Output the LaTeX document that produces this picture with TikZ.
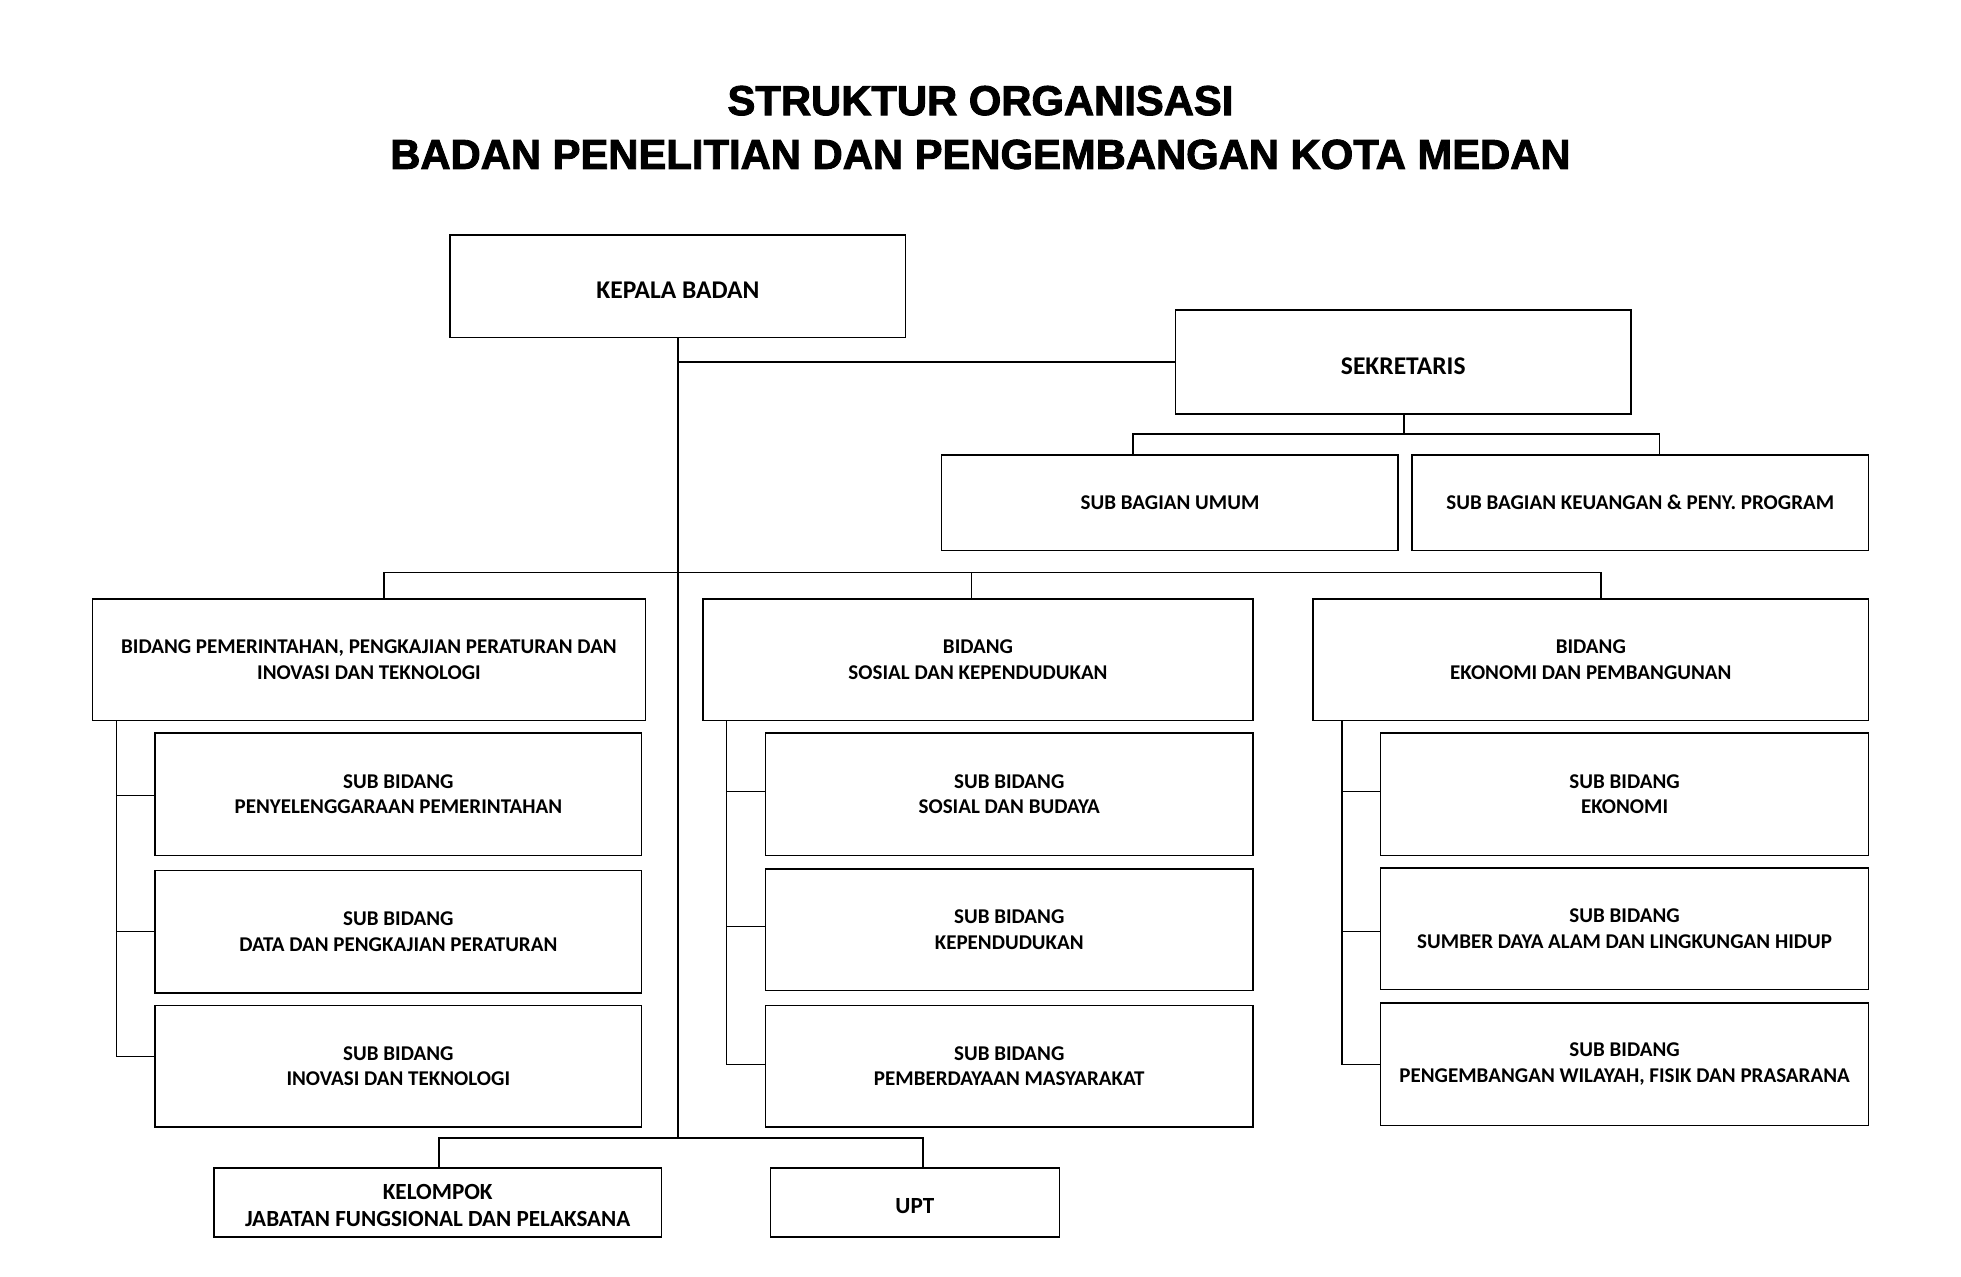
\documentclass[tikz,border=0pt]{standalone}
\usepackage{fontspec}
\setmainfont{Carlito}
\newfontfamily\titlefont[FakeBold=2.2]{Liberation Sans Bold}
\begin{document}
\begin{tikzpicture}[x=1pt,y=-1pt,
  box/.style={draw, line width=1.2pt, inner sep=0pt, align=center,
    font=\bfseries\fontsize{16.8}{20.5}\selectfont},
  bigbox/.style={box, font=\bfseries\fontsize{20.4}{22}\selectfont, text height=19.2pt, text depth=0pt},
  botbox/.style={box, font=\bfseries\fontsize{18.5}{22}\selectfont},
  lbl/.style={font=\bfseries\fontsize{18.5}{22}\selectfont, align=center, inner sep=0pt, yshift=-2.5pt},
  conn/.style={line width=1.1pt},
  ttl/.style={font=\titlefont\fontsize{33.4}{43}\selectfont, inner sep=0pt, anchor=base}]
\useasboundingbox (0,0) rectangle (1568,1020.3);
% title
\node[ttl] (t1) at (784,92) {STRUKTUR ORGANISASI};
\node[ttl] (t2) at (784,135) {BADAN PENELITIAN DAN PENGEMBANGAN KOTA MEDAN};
% top
\node[bigbox, minimum width=364, minimum height=82] (kepala) at (542,229) {KEPALA BADAN};
\node[bigbox, minimum width=364, minimum height=83] (sek) at (1122,289.5) {SEKRETARIS};
\node[box, minimum width=365, minimum height=76] (umum) at (935.5,402) {SUB BAGIAN UMUM};
\node[box, minimum width=365, minimum height=76] (keu) at (1311.5,402) {SUB BAGIAN KEUANGAN \& PENY. PROGRAM};
% bidang
\node[box, minimum width=442, minimum height=97] (b1) at (295,527.5) {BIDANG PEMERINTAHAN, PENGKAJIAN PERATURAN DAN\\INOVASI DAN TEKNOLOGI};
\node[box, minimum width=440, minimum height=97] (b2) at (782,527.5) {BIDANG\\SOSIAL DAN KEPENDUDUKAN};
\node[box, minimum width=444, minimum height=97] (b3) at (1272,527.5) {BIDANG\\EKONOMI DAN PEMBANGUNAN};
% sub bidang left
\node[box, minimum width=389, minimum height=98] (s11) at (318.5,635) {SUB BIDANG\\PENYELENGGARAAN PEMERINTAHAN};
\node[box, minimum width=389, minimum height=98] (s12) at (318.5,745) {SUB BIDANG\\DATA DAN PENGKAJIAN PERATURAN};
\node[box, minimum width=389, minimum height=97] (s13) at (318.5,852.5) {SUB BIDANG\\INOVASI DAN TEKNOLOGI};
% sub bidang middle
\node[box, minimum width=390, minimum height=98] (s21) at (807,635) {SUB BIDANG\\SOSIAL DAN BUDAYA};
\node[box, minimum width=390, minimum height=97] (s22) at (807,743.5) {SUB BIDANG\\KEPENDUDUKAN};
\node[box, minimum width=390, minimum height=97] (s23) at (807,852.5) {SUB BIDANG\\PEMBERDAYAAN MASYARAKAT};
% sub bidang right
\node[box, minimum width=390, minimum height=98] (s31) at (1299,635) {SUB BIDANG\\EKONOMI};
\node[box, minimum width=390, minimum height=97] (s32) at (1299,742.5) {SUB BIDANG\\SUMBER DAYA ALAM DAN LINGKUNGAN HIDUP};
\node[box, minimum width=390, minimum height=98] (s33) at (1299,851) {SUB BIDANG\\PENGEMBANGAN WILAYAH, FISIK DAN PRASARANA};
% bottom
\node[box, minimum width=358, minimum height=55,
  label={[lbl]center:{KELOMPOK\\JABATAN FUNGSIONAL DAN PELAKSANA}}] (kel) at (350,961.5) {};
\node[botbox, minimum width=231, minimum height=55, text height=18pt, text depth=0pt] (upt) at (731.5,961.5) {UPT};
% coordinates
\coordinate (trunkbot) at (542,910);
\coordinate (sekbus) at (1122.5,347);
\coordinate (umumt) at (906,364);
\coordinate (keut) at (1327,364);
\coordinate (bus) at (542,458);
\coordinate (b1t) at (307,479);
\coordinate (b2t) at (777,479);
\coordinate (b3t) at (1280,479);
\coordinate (c1) at (93,576);
\coordinate (c2) at (581,576);
\coordinate (c3) at (1073,576);
\coordinate (t11) at (124,636);
\coordinate (t12) at (124,745);
\coordinate (t13) at (124,845);
\coordinate (t21) at (612,633);
\coordinate (t22) at (612,741);
\coordinate (t23) at (612,851);
\coordinate (t31) at (1104,633);
\coordinate (t32) at (1104,745);
\coordinate (t33) at (1104,851);
\coordinate (kt) at (351,934);
\coordinate (ut) at (738,934);
% connectors
\draw[conn] (kepala.south) -- (trunkbot);
\draw[conn] (kepala.south |- sek.west) -- (sek.west);
\draw[conn] (sek.south -| sekbus) -- (sekbus);
\draw[conn] (umumt) |- (keut |- sekbus) -- (keut);
\draw[conn] (b1t) |- (b3t |- bus) -- (b3t);
\draw[conn] (b2t) -- (b2t |- bus);
\draw[conn] (c1) |- (t13);
\draw[conn] (c1 |- t11) -- (t11);
\draw[conn] (c1 |- t12) -- (t12);
\draw[conn] (c2) |- (t23);
\draw[conn] (c2 |- t21) -- (t21);
\draw[conn] (c2 |- t22) -- (t22);
\draw[conn] (c3) |- (t33);
\draw[conn] (c3 |- t31) -- (t31);
\draw[conn] (c3 |- t32) -- (t32);
\draw[conn] (kt) |- (ut |- trunkbot) -- (ut);
\end{tikzpicture}
\end{document}
